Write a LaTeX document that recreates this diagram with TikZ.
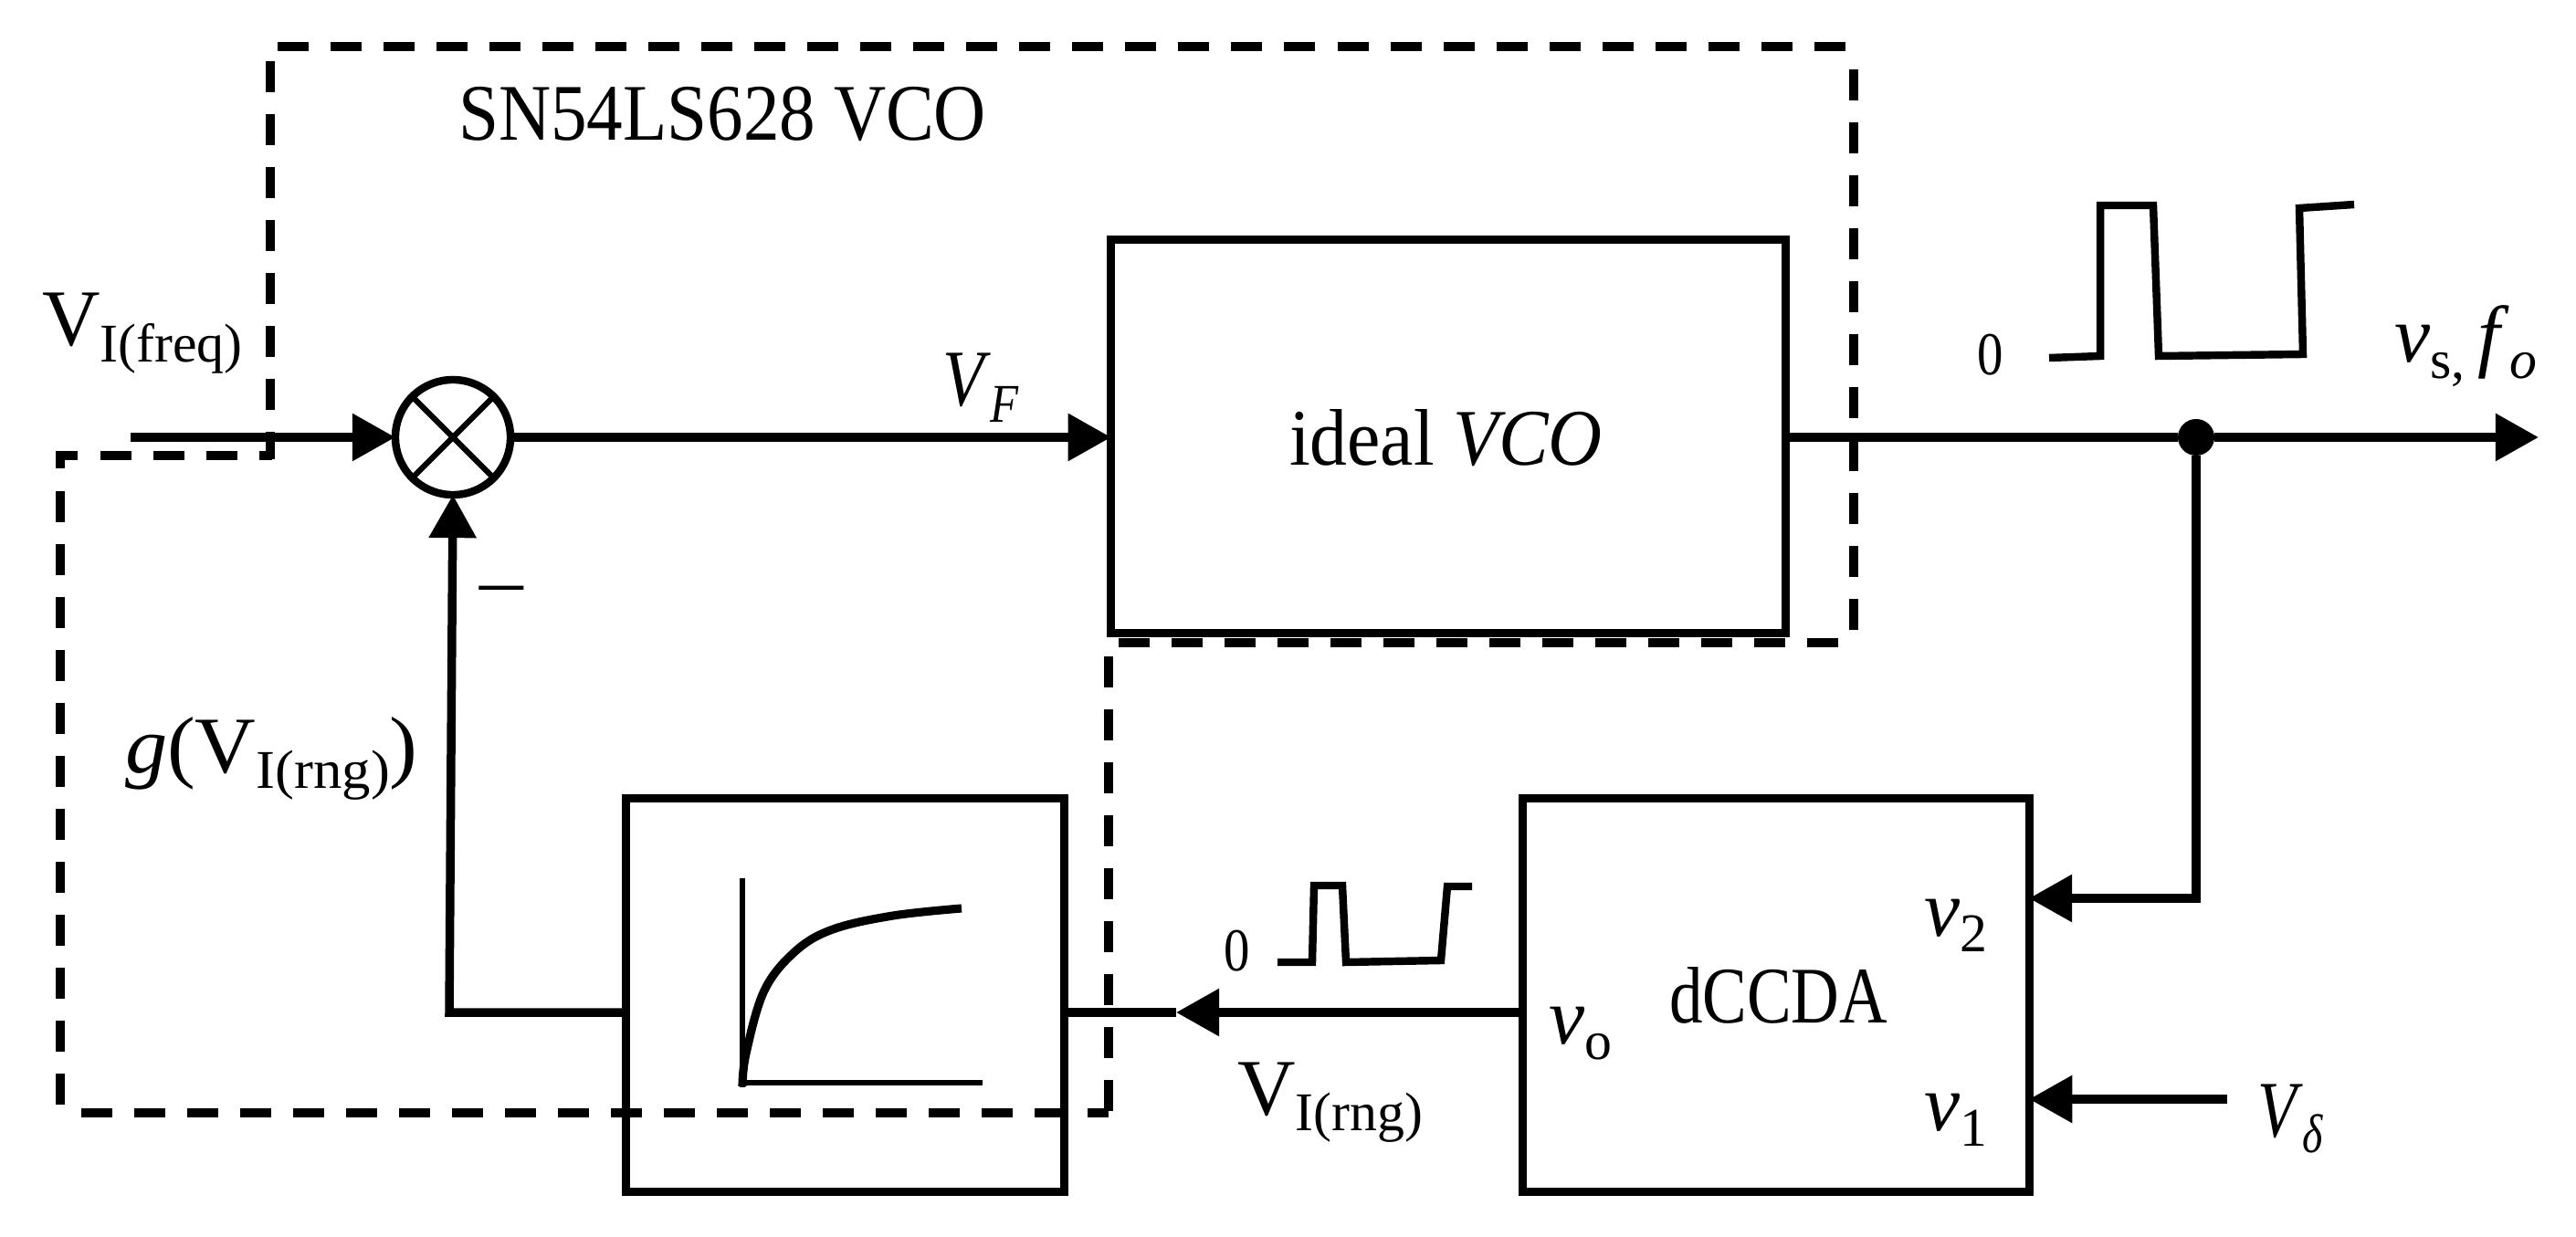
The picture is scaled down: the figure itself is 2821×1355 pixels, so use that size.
\documentclass[tikz,border=0pt]{standalone}
\usepackage{fontspec}
\setmainfont{Liberation Serif}
\usetikzlibrary{arrows.meta}
\newcommand{\sbt}[1]{\raisebox{-5pt}{\fontsize{17}{20}\selectfont #1}}
\newcommand{\narrowby}[2]{\scalebox{#1}[1]{#2}}
\tikzset{
  x=0.01cm,y=-0.01cm,
  lab/.style={anchor=base west,inner sep=0pt,outer sep=0pt,font=\fontsize{25}{30}\selectfont},
  labs/.style={lab,font=\fontsize{19}{22}\selectfont},
  blockbox/.style={draw=black,line width=2.6pt,fill=none,inner sep=0pt,outer sep=0pt,rectangle},
  sig/.style={draw=black,line width=2.7pt},
  arr/.style={sig,-{Triangle[length=13.4pt,width=14.2pt]}},
  frame/.style={draw=black,line width=2.7pt,dash pattern=on 9.67pt off 6.83pt},
  wave/.style={draw=black,line width=2.4pt,miter limit=10},
}
\begin{document}
\begin{tikzpicture}
\useasboundingbox (0,0) rectangle (2821,1355);
% blocks
\node[blockbox,minimum width=7.38cm,minimum height=4.30cm] (vco) at (1586,478) {};
\node[blockbox,minimum width=4.79cm,minimum height=4.30cm] (fb) at (925.5,1090) {};
\node[blockbox,minimum width=5.54cm,minimum height=4.30cm] (dc) at (1945,1090) {};
\node[circle,draw=black,line width=2.4pt,minimum size=1.26cm,inner sep=0pt,outer sep=0pt] (sum) at (496,479) {};
\node[circle,fill=black,minimum size=0.40cm,inner sep=0pt,outer sep=0pt] (dot) at (2405,479) {};
\draw[line width=1.8pt] (sum.north east) -- (sum.south west);
\draw[line width=1.8pt] (sum.north west) -- (sum.south east);
% free ends
\coordinate (inp) at (143,479);
\coordinate (outp) at (2780,479);
\coordinate (fbk) at (492,1109);
\coordinate (vtip) at (1288,1109);
\coordinate (v2y) at (2222,984);
\coordinate (v1t) at (2439,1204);
% frame
\draw[frame] (304,51) -- (2030,51);
\draw[frame] (296,67) -- (296,503);
\draw[frame] (2030,76) -- (2030,692);
\draw[frame] (1225,704) -- (2017,704);
\draw[frame] (1214,719) -- (1214,1222);
\draw[frame] (89,1219) -- (1214,1219);
\draw[frame] (66,538) -- (66,1214);
\draw[frame] (110,499) -- (298,499);
\draw[line width=2.7pt] (66,513) -- (66,499) -- (85,499);
% connectors
\draw[arr] (inp) -- (sum.west);
\draw[arr] (sum.east) -- (vco.west |- sum.east);
\draw[sig] (vco.east |- outp) -- (dot);
\draw[arr] (dot) -- (outp);
\draw[arr] (dot) -- (dot |- v2y) -- (v2y);
\draw[arr] (v1t) -- (dc.east |- v1t);
\draw[arr] (dc.west |- vtip) -- (vtip);
\draw[sig] (vtip) -- (fb.east |- vtip);
\draw[arr] (fb.west |- fbk) -- (fbk) -- (sum.south);
% waveforms
\draw[wave] (2244,392) -- (2300,390) -- (2300,225) -- (2358,225) -- (2364,390) -- (2522,388) -- (2518,228) -- (2578,224);
\draw[wave] (1399,1054) -- (1437,1054) -- (1439,970) -- (1470,970) -- (1474,1054) -- (1578,1052) -- (1585,971) -- (1612,971);
% curve in the limiter
\draw[line width=1.6pt] (813,962) -- (813,1191);
\draw[line width=1.6pt] (813,1186) -- (1076,1186);
\draw[line width=2.6pt] plot[smooth,tension=0.6] coordinates {(813,1190) (817,1154) (837,1085) (871,1042) (912,1018) (978,1003) (1053,995)};
% labels
\node[lab] (title) at (502,154) {\narrowby{0.9}{SN54LS628 VCO}};
\node[lab] (vifreq) at (46,379) {V\sbt{I(freq)}};
\node[lab] (vf) at (1032,445) {\narrowby{0.85}{\textit{V}\sbt{\textit{F}}}};
\node[lab] (minus) at (519,673) {\narrowby{1.2}{−}};
\node[lab] (grng) at (137,846) {\narrowby{1.05}{\textit{g}(V\sbt{I(rng)})}};
\node[lab] (ideal) at (1412,509) {\narrowby{0.93}{ideal \textit{VCO}}};
\node[lab] (dccda) at (1828,1120) {\narrowby{0.83}{dCCDA}};
\node[lab] (vo) at (1696,1143) {\textit{v}\sbt{o}};
\node[lab] (v2) at (2107,1025) {\textit{v}\sbt{2}};
\node[lab] (v1) at (2107,1238) {\textit{v}\sbt{1}};
\node[lab] (vdelta) at (2472,1245) {\narrowby{0.8}{\textit{V}\sbt{\textit{δ}}}};
\node[lab] (virng) at (1355,1221) {V\sbt{I(rng)}};
\node[lab] (vsfo) at (2622,397) {\textit{v}\sbt{s,}\,\textit{f}\sbt{\textit{o}}};
\node[labs] (zeroa) at (2165,411) {\narrowby{0.85}{0}};
\node[labs] (zerob) at (1340,1063) {\narrowby{0.85}{0}};
\end{tikzpicture}
\end{document}
